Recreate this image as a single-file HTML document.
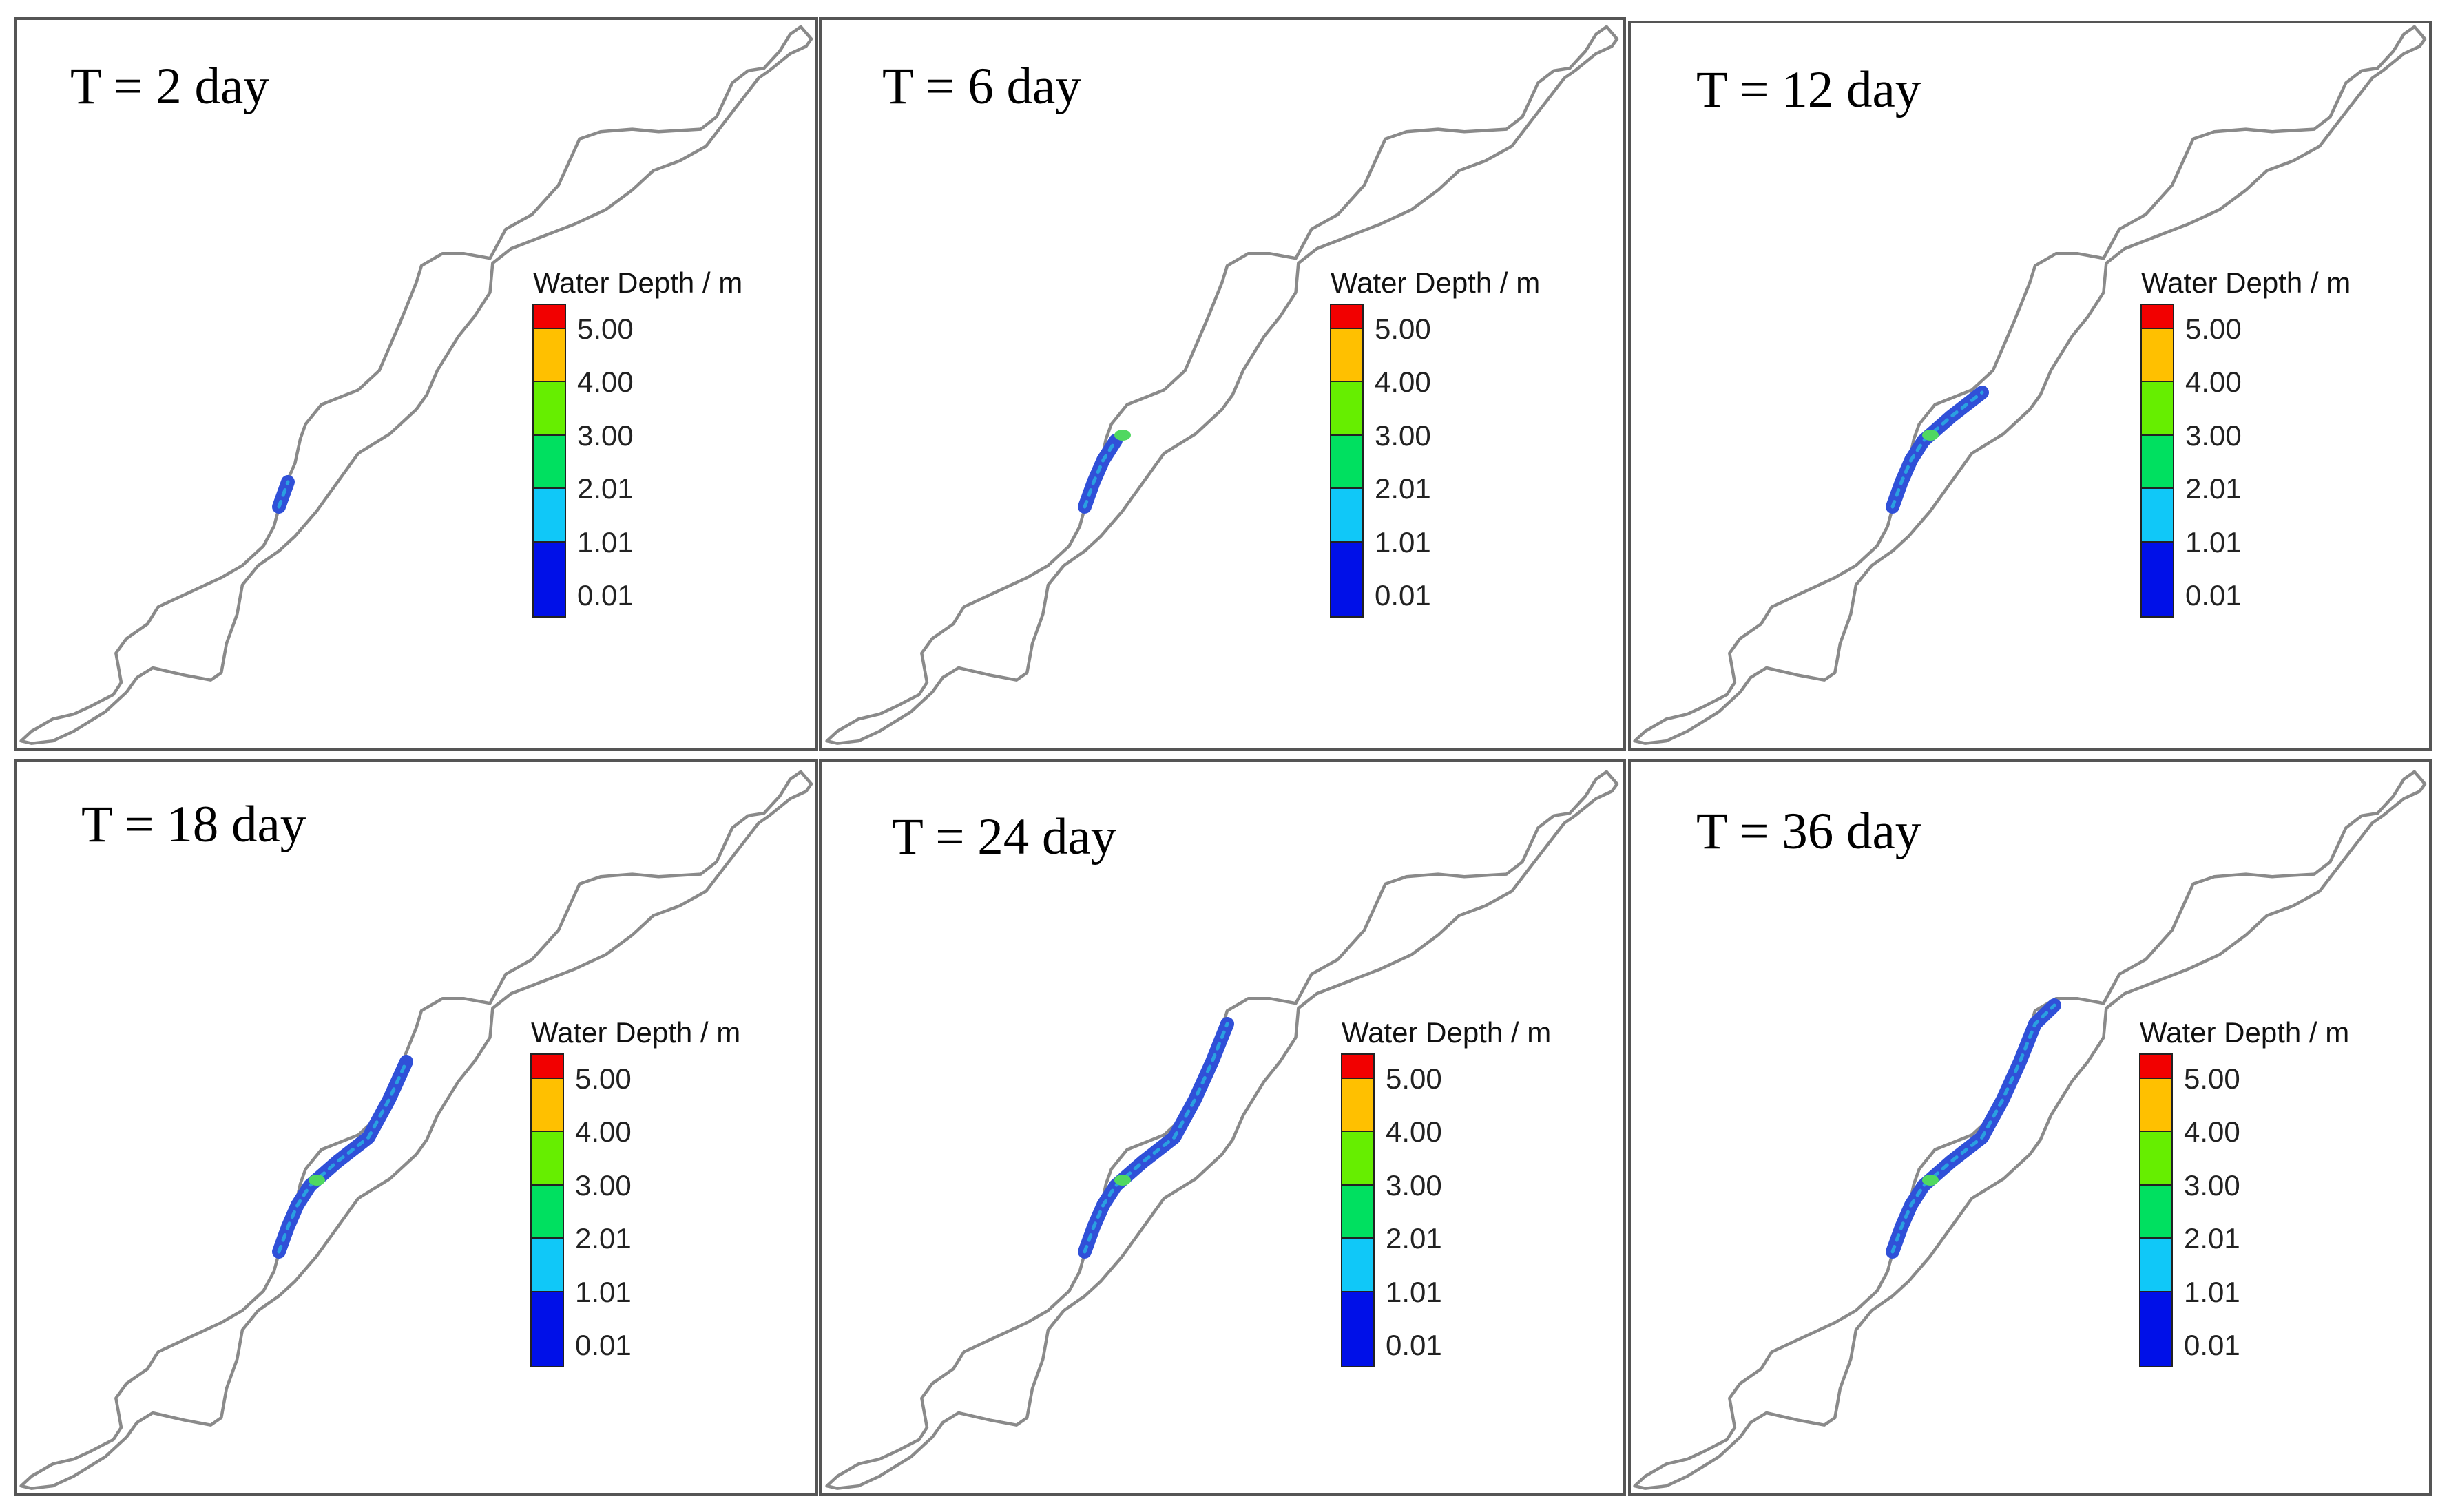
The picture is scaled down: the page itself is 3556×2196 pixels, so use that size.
<!DOCTYPE html>
<html><head><meta charset="utf-8"><style>
html,body{margin:0;padding:0;background:#fff;}
svg{display:block;}
</style></head><body>
<svg id="fig" width="3556" height="2196" viewBox="0 0 3556 2196" xmlns="http://www.w3.org/2000/svg"></svg>
<script>
const times = [2, 6, 12, 18, 24, 36];
const levelLabels = ['5.00', '4.00', '3.00', '2.01', '1.01', '0.01'];
const levelColors = ['#f20000', '#ffc000', '#66ee00', '#00e060', '#10c8f8', '#0010e8'];
const plumeExtent = [2, 4, 6, 8, 9, 10]; // number of channel centerline nodes reached
const greenSpot = [0, 1, 1, 1, 1, 1];

const NS = 'http://www.w3.org/2000/svg';
const svg = document.getElementById('fig');
function mk(tag, attrs, parent) {
  const e = document.createElementNS(NS, tag);
  for (const k in attrs) e.setAttribute(k, attrs[k]);
  (parent || svg).appendChild(e);
  return e;
}
const upper = [[40,1520],[60,1500],[100,1475],[140,1465],[170,1450],[215,1425],[230,1400],[220,1340],[240,1310],[280,1280],[300,1245],[360,1215],[420,1185],[460,1160],[500,1120],[520,1080],[530,1040],[540,1000],[560,950],[570,900],[580,870],[610,830],[680,800],[720,760],[760,660],[790,580],[800,545],[840,520],[880,520],[930,530],[960,470],[1010,440],[1060,380],[1100,285],[1140,270],[1200,265],[1250,270],[1330,265],[1360,240],[1390,170],[1420,145],[1450,140],[1480,105],[1500,70],[1520,55],[1540,80],[1530,95]];
const lower = [[1500,110],[1460,145],[1440,160],[1390,230],[1340,300],[1290,330],[1240,350],[1200,390],[1150,430],[1090,460],[1030,485],[970,510],[935,540],[930,600],[900,650],[870,690],[830,760],[810,810],[790,840],[740,890],[680,930],[640,990],[600,1050],[560,1100],[530,1130],[490,1160],[460,1200],[450,1260],[430,1320],[420,1380],[400,1395],[350,1385],[290,1370],[260,1390],[240,1420],[220,1440],[200,1460],[170,1480],[140,1500],[100,1520],[60,1525],[40,1520]];
const outlinePts = upper.concat(lower).map(p => [p[0]*0.765, p[1]*0.708]);
const centerline = [[405,736],[418,700],[432,668],[450,640],[490,605],[535,570],[565,515],[590,460],[612,405],[640,378],[672,372]];

const panels = [
  {x:23,y:27,w:1163,h:1062,dx:0,dy:0,tx:102,ty:150,lx:774,ly:442},
  {x:1191,y:27,w:1168,h:1062,dx:1170,dy:0,tx:1281,ty:150,lx:1932,ly:442},
  {x:2366,y:32,w:1163,h:1057,dx:2343,dy:0,tx:2463,ty:155,lx:3109,ly:442},
  {x:23,y:1105,w:1163,h:1066,dx:0,dy:1082,tx:118,ty:1222,lx:771,ly:1531},
  {x:1191,y:1105,w:1168,h:1066,dx:1170,dy:1082,tx:1295,ty:1240,lx:1948,ly:1531},
  {x:2366,y:1105,w:1163,h:1066,dx:2343,dy:1082,tx:2463,ty:1232,lx:3107,ly:1531}
];
const segH = [35, 77, 78, 77, 78, 109];

panels.forEach((p, i) => {
  const g = mk('g', {});
  
  
  const border = mk('rect', {x:p.x, y:p.y, width:p.w, height:p.h, fill:'none', stroke:'#555', 'stroke-width':4}, g);
  
  
  const outline = mk('polygon', {points: outlinePts.map(q => (q[0]+p.dx).toFixed(1)+','+(q[1]+p.dy).toFixed(1)).join(' '), fill:'none', stroke:'#8a8a8a', 'stroke-width':4.5, 'stroke-linejoin':'round'}, g);
  
  
  const n = plumeExtent[i];
  const pts = centerline.slice(0, n).map(q => (q[0]+p.dx)+','+(q[1]+p.dy)).join(' ');
  const plume = mk('polyline', {points: pts, fill:'none', stroke:'#3050d8', 'stroke-width':20, 'stroke-linejoin':'round', 'stroke-linecap':'round'}, g);
  
  
  const inner = mk('polyline', {points: pts, fill:'none', stroke:'#2aa0e0', 'stroke-width':5, 'stroke-dasharray':'8 10', 'stroke-linecap':'round'}, g);
  
  
  if (greenSpot[i]) {
    const c = centerline[3];
    const spot = mk('ellipse', {cx:c[0]+p.dx+10, cy:c[1]+p.dy-8, rx:12, ry:8, fill:'#50d860'}, g);
    
    
  }
  const t = mk('text', {x:p.tx, y:p.ty, 'font-family':'Liberation Serif, serif', 'font-size':75, fill:'#000'}, g);
  t.textContent = 'T = ' + times[i] + ' day';
  
  
  const lt = mk('text', {x:p.lx, y:p.ly-17, 'font-family':'Liberation Sans, sans-serif', 'font-size':42, fill:'#111'}, g);
  lt.textContent = 'Water Depth / m';
  
  
  let y = p.ly;
  levelColors.forEach((col, k) => {
    const r = mk('rect', {x:p.lx, y:y, width:47, height:segH[k], fill:col, stroke:'#222', 'stroke-width':2}, g);
    
    
    y += segH[k];
    const ly = k < 5 ? y : y - 32;
    const lab = mk('text', {x:p.lx+64, y:ly+15, 'font-family':'Liberation Sans, sans-serif', 'font-size':42, fill:'#222'}, g);
    lab.textContent = levelLabels[k];
    
    
  });
});
</script>
</body></html>
